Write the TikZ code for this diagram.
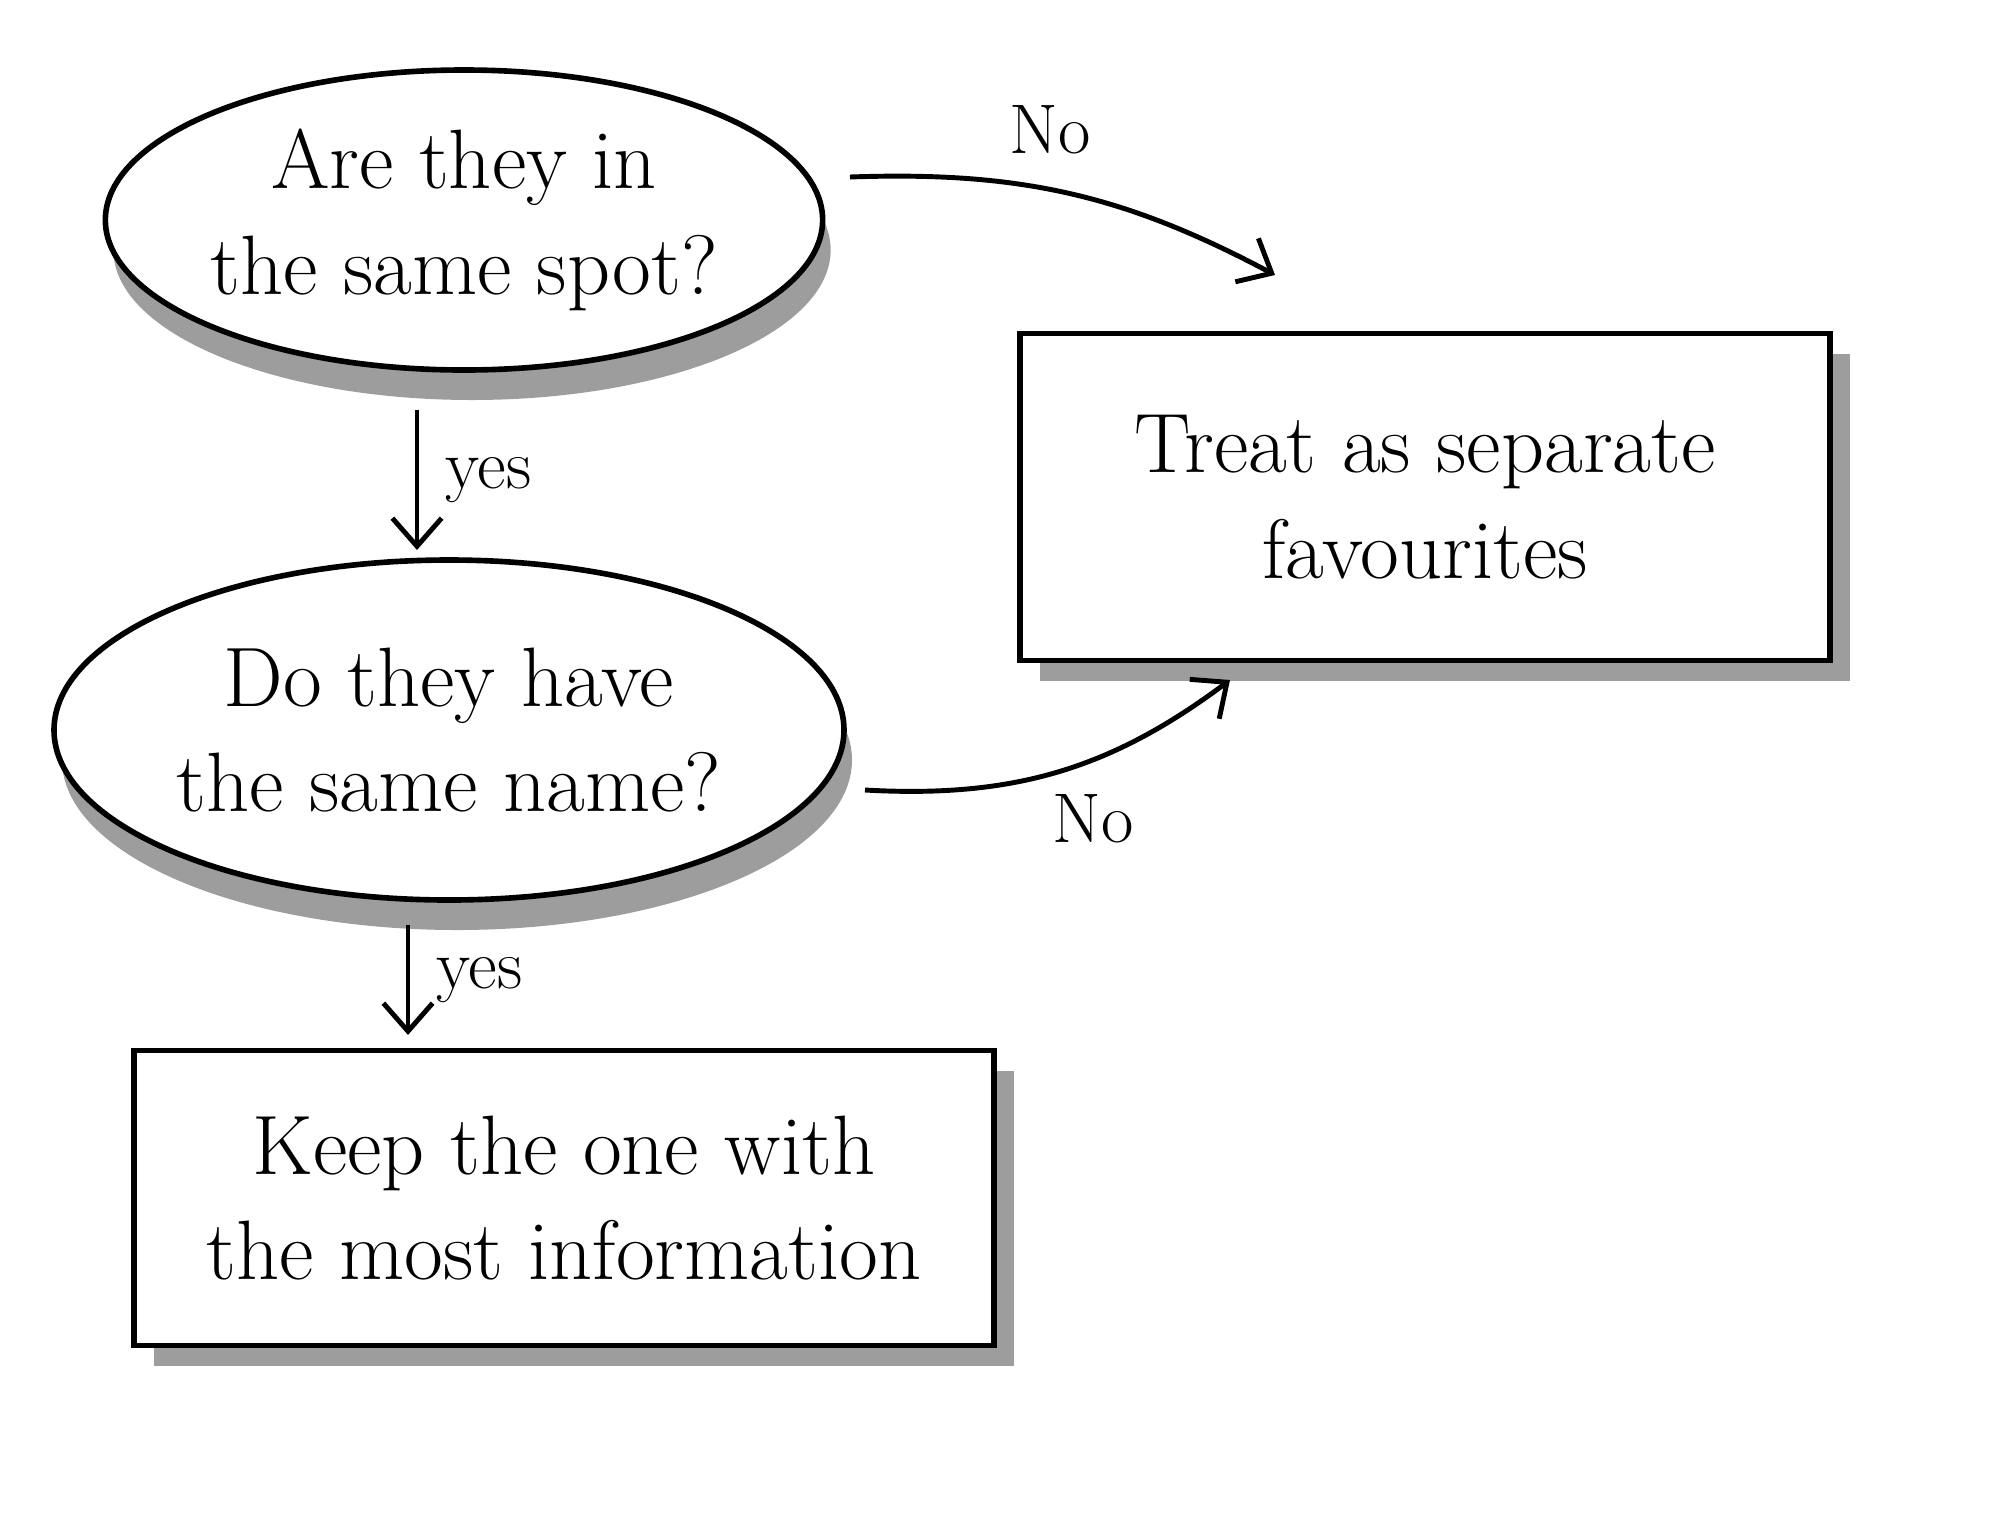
\documentclass[tikz,border=0pt]{standalone}
\usepackage{tikz}
\usetikzlibrary{shapes.geometric,shadows,arrows.meta}

\tikzset{
    question/.style={ellipse, draw, line width=1.6pt, fill=white, inner sep=0pt,
        align=center, font=\fontsize{24}{30}\selectfont,
        drop shadow={shadow xshift=0.08, shadow yshift=-0.3, fill=black!55, opacity=0.7}},
    answer/.style={rectangle, draw, line width=1.6pt, fill=white, inner sep=0pt,
        align=center, font=\fontsize{24}{30}\selectfont,
        drop shadow={shadow xshift=0.2, shadow yshift=-0.2, fill=black!55, opacity=0.7}},
    flow/.style={-{Straight Barb[length=8pt,width=14pt]}, line width=1.4pt},
    tag/.style={font=\fontsize{20}{24}\selectfont}
}

\begin{document}
\begin{tikzpicture}
\useasboundingbox (0,0) rectangle (20,-15.12);
\node[question, minimum width=7.1cm, minimum height=3cm] (spot) at (4.64,-2.2) {Are they in\\the same spot?};
\node[question, minimum width=7.9cm, minimum height=3.4cm] (name) at (4.49,-7.3) {Do they have\\the same name?};
\node[answer, minimum width=8.1cm, minimum height=3.27cm] (separate) at (14.25,-4.97) {Treat as separate\\favourites};
\node[answer, minimum width=8.6cm, minimum height=2.95cm] (keep) at (5.64,-11.98) {Keep the one with\\the most information};
\coordinate (spotE) at (8.5,-1.77);
\coordinate (nameE) at (8.65,-7.9);
\draw[flow] (spotE) to[bend left=15] node[tag, above=6pt, pos=0.45] {No} (12.75,-2.75);
\draw[flow] (nameE) to[bend right=20] node[tag, below=6pt, pos=0.6] {No} (12.3,-6.8);
\draw[flow] (4.17,-4.1) -- node[tag, right=4pt] {yes} (4.17,-5.5);
\draw[flow] (4.08,-9.25) -- node[tag, right=4pt] {yes} (4.08,-10.35);
\end{tikzpicture}
\end{document}
